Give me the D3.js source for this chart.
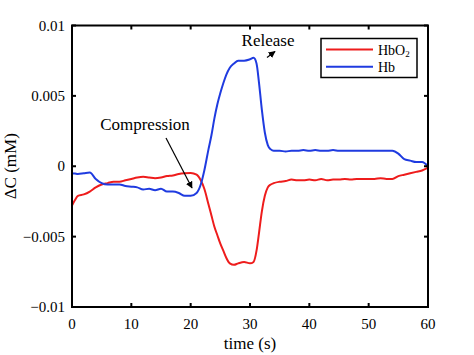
<!DOCTYPE html>
<html>
<head>
<meta charset="utf-8">
<script src="https://cdn.jsdelivr.net/npm/d3@7"></script>
<style>
  html, body { margin: 0; padding: 0; background: #fff; }
  svg { display: block; }
</style>
</head>
<body>
<svg id="chart" width="474" height="355"></svg>
<script>
const time = [0, 0.5, 1, 2, 3, 4, 5, 6, 7, 8, 9, 10, 11, 12, 13, 14, 15, 16, 17, 18, 19, 20, 21, 21.7, 22.3, 23, 23.5, 24, 24.5, 25, 25.5, 26, 26.6, 27.3, 28, 29, 30, 30.6, 31.1, 31.5, 32, 32.5, 33, 33.5, 34, 35, 36, 37, 38, 39, 40, 41, 42, 43, 44, 45, 46, 47, 48, 49, 50, 51, 52, 53, 54, 55, 56, 57, 58, 59, 60];
const hbo2 = [-0.0028, -0.0024, -0.0021, -0.002, -0.0018, -0.0015, -0.0013, -0.0012, -0.0011, -0.0011, -0.001, -0.0009, -0.0008, -0.00075, -0.0008, -0.00085, -0.0008, -0.0007, -0.00065, -0.00055, -0.0005, -0.00048, -0.0006, -0.001, -0.0016, -0.0027, -0.0035, -0.0043, -0.0049, -0.0055, -0.006, -0.0065, -0.0069, -0.007, -0.0069, -0.0068, -0.0069, -0.0068, -0.006, -0.0048, -0.0032, -0.0021, -0.0015, -0.0013, -0.0012, -0.0011, -0.00105, -0.00095, -0.001, -0.001, -0.00095, -0.001, -0.0009, -0.001, -0.00095, -0.00095, -0.0009, -0.00095, -0.0009, -0.0009, -0.0009, -0.0009, -0.00085, -0.0009, -0.0009, -0.0007, -0.0006, -0.0005, -0.0004, -0.0003, -0.0001];
const hb = [-0.0005, -0.00052, -0.00055, -0.0005, -0.00045, -0.0009, -0.0012, -0.0013, -0.0013, -0.0013, -0.0014, -0.00145, -0.0015, -0.00165, -0.0016, -0.0017, -0.0016, -0.0018, -0.0018, -0.0019, -0.0021, -0.0021, -0.0019, -0.0013, -0.0003, 0.0012, 0.0022, 0.0034, 0.0044, 0.0052, 0.0059, 0.0065, 0.007, 0.0073, 0.0075, 0.0075, 0.0076, 0.0077, 0.0073, 0.006, 0.004, 0.0024, 0.0015, 0.0012, 0.0011, 0.0011, 0.00105, 0.0011, 0.0011, 0.00115, 0.0011, 0.00115, 0.0011, 0.0011, 0.00115, 0.0011, 0.0011, 0.0011, 0.0011, 0.0011, 0.0011, 0.0011, 0.0011, 0.0011, 0.0011, 0.0009, 0.0005, 0.0004, 0.0003, 0.0003, 0.0];
const xTicks = [0, 10, 20, 30, 40, 50, 60];
const yTicks = [-0.01, -0.005, 0, 0.005, 0.01];
const yTickLabels = ["\u22120.01", "\u22120.005", "0", "0.005", "0.01"];
const seriesNames = ["HbO", "Hb"];
const seriesSubs = ["2", ""];
const seriesColors = ["#ee1c1c", "#1f3be0"];

const FONT = "Liberation Serif";
const svg = d3.select("#chart");
const L = 72, R = 428, T = 25.5, B = 307;
const x = d3.scaleLinear().domain([0, 60]).range([L, R]);
const y = d3.scaleLinear().domain([-0.01, 0.01]).range([B, T]);

function txt(sel, size) { return sel.attr("font-family", FONT).attr("fill", "#000").attr("font-size", size); }

// lines
const line = d3.line().curve(d3.curveMonotoneX);
[hbo2, hb].forEach((vals, i) => {
  svg.append("path")
    .attr("d", line(time.map((t, k) => [x(t), y(vals[k])])))
    .attr("fill", "none")
    .attr("stroke", seriesColors[i])
    .attr("stroke-width", 2);
});

// axes (ticks inward, mirrored box)
const tickLen = 4;
const ax = svg.append("g").attr("stroke", "#000").attr("stroke-width", 2);
ax.append("rect").attr("x", L).attr("y", T).attr("width", R - L).attr("height", B - T).attr("fill", "none");
xTicks.forEach(v => {
  ax.append("line").attr("x1", x(v)).attr("x2", x(v)).attr("y1", B).attr("y2", B - tickLen);
  ax.append("line").attr("x1", x(v)).attr("x2", x(v)).attr("y1", T).attr("y2", T + tickLen);
});
yTicks.forEach(v => {
  ax.append("line").attr("x1", L).attr("x2", L + tickLen).attr("y1", y(v)).attr("y2", y(v));
  ax.append("line").attr("x1", R).attr("x2", R - tickLen).attr("y1", y(v)).attr("y2", y(v));
});

txt(svg.selectAll(".xt").data(xTicks).enter().append("text"), 15)
  .attr("x", d => x(d)).attr("y", 329).attr("text-anchor", "middle").text(d => d);
txt(svg.selectAll(".yt").data(yTicks).enter().append("text"), 15)
  .attr("x", 65).attr("y", d => y(d) + 5).attr("text-anchor", "end").text((d, i) => yTickLabels[i]);

txt(svg.append("text"), 17).attr("x", (L + R) / 2).attr("y", 349).attr("text-anchor", "middle").text("time (s)");
txt(svg.append("text"), 17).attr("transform", "translate(16," + ((T + B) / 2) + ") rotate(-90)")
  .attr("text-anchor", "middle").text("\u0394C (mM)");

// legend
svg.append("rect").attr("x", 321).attr("y", 38.5).attr("width", 96).attr("height", 39)
  .attr("fill", "#fff").attr("stroke", "#000").attr("stroke-width", 1.5);
seriesNames.forEach((n, i) => {
  const ly = 49.5 + i * 17.3;
  svg.append("line").attr("x1", 326).attr("x2", 373).attr("y1", ly).attr("y2", ly)
    .attr("stroke", seriesColors[i]).attr("stroke-width", 2);
  const t = txt(svg.append("text"), 14).attr("x", 378).attr("y", ly + 5);
  t.append("tspan").text(n);
  if (seriesSubs[i]) t.append("tspan").attr("font-size", 9).attr("dy", 2).text(seriesSubs[i]);
});

// annotations
const defs = svg.append("defs");
defs.append("marker").attr("id", "ah").attr("viewBox", "0 0 10 10").attr("refX", 9).attr("refY", 5)
  .attr("markerWidth", 7).attr("markerHeight", 7).attr("markerUnits", "userSpaceOnUse").attr("orient", "auto")
  .append("path").attr("d", "M0,0 L10,5 L0,10 z").attr("fill", "#000");

txt(svg.append("text"), 17).attr("x", 268).attr("y", 46).attr("text-anchor", "middle").text("Release");
svg.append("line").attr("x1", 267).attr("y1", 57.5).attr("x2", 275).attr("y2", 51.5)
  .attr("stroke", "#000").attr("stroke-width", 1.2).attr("marker-end", "url(#ah)");

txt(svg.append("text"), 17).attr("x", 145).attr("y", 130).attr("text-anchor", "middle").text("Compression");
svg.append("line").attr("x1", 166).attr("y1", 138).attr("x2", 192).attr("y2", 188)
  .attr("stroke", "#000").attr("stroke-width", 1.2).attr("marker-end", "url(#ah)");
</script>
</body>
</html>
